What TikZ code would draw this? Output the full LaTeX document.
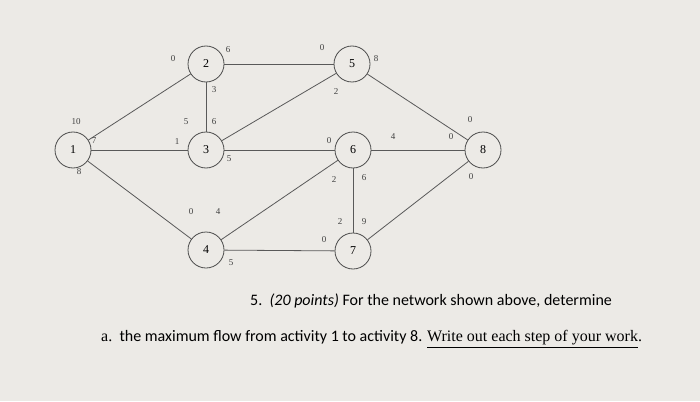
\documentclass[tikz,border=0pt]{standalone}
\usepackage{fontspec}
\setsansfont{Carlito}
\setmainfont{Liberation Serif}
\definecolor{bgc}{RGB}{236,234,230}
\begin{document}
\begin{tikzpicture}[x=1pt,y=-1pt,
  nd/.style={circle,draw=black!70,line width=0.8pt,minimum size=36pt,inner sep=0pt,font=\fontsize{12}{12}\selectfont\rmfamily},
  ed/.style={draw=black!65,line width=0.8pt},
  lb/.style={font=\fontsize{9}{9}\selectfont\rmfamily,text=black!75,inner sep=0pt}]
\fill[bgc] (0,0) rectangle (700,401);
\useasboundingbox (0,0) rectangle (700,401);
\node[nd] (n1) at (73,150) {1};
\node[nd] (n2) at (206,64) {2};
\node[nd] (n3) at (206,150) {3};
\node[nd] (n4) at (206,250) {4};
\node[nd] (n5) at (352,64) {5};
\node[nd] (n6) at (353,150) {6};
\node[nd] (n7) at (353,251) {7};
\node[nd] (n8) at (483,150) {8};
\foreach \a/\b in {n1/n2,n1/n3,n1/n4,n2/n3,n2/n5,n3/n5,n3/n6,n4/n6,n4/n7,n5/n8,n6/n8,n6/n7,n7/n8}
  \draw[ed] (\a) -- (\b);
\foreach \x/\y/\t in {173/59/0,228/50/6,214/90/3,186/122/5,214/122/6,76/122/10,94/141/7,79/172/8,
  177/142/1,229/159/5,329/141/0,336/92/2,322/48/0,376/59/8,393/137/4,451/137/0,470/120/0,471/177/0,
  334/180/2,364/178/6,340/222/2,364/222/9,324/240/0,191/212/0,218/212/4,231/263/5}
  \node[lb] at (\x,\y) {\t};
\node[anchor=west,inner sep=0pt,font=\fontsize{16}{16}\selectfont\sffamily] (q) at (250,301)
  {5.\ \ \textit{(20 points)} For the network shown above, determine};
\node[anchor=west,inner sep=0pt,font=\fontsize{16}{16}\selectfont\sffamily] (qa) at (101,339)
  {{\rmfamily a.}\ \ the maximum flow from activity 1 to activity 8. {\rmfamily\underline{Write out each step of your work}.}};
\end{tikzpicture}
\end{document}
